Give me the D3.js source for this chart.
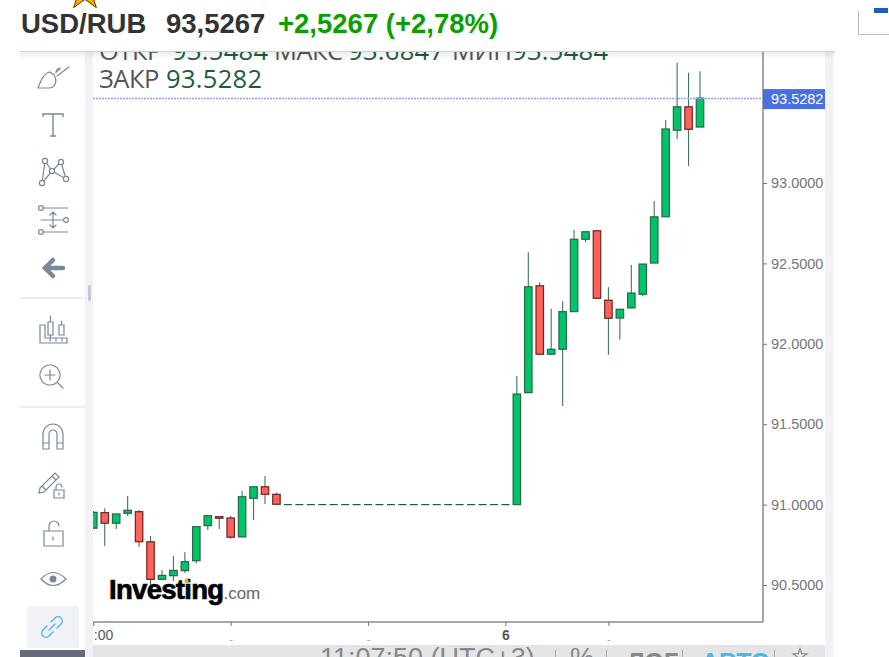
<!DOCTYPE html>
<html>
<head>
<meta charset="utf-8">
<script src="https://cdn.jsdelivr.net/npm/d3@7/dist/d3.min.js"></script>
<style>
  html, body { margin: 0; padding: 0; background: #fff; overflow: hidden; }
  svg { display: block; }
  text { font-family: "Liberation Sans", Arial, sans-serif; }
</style>
</head>
<body>
<div id="d3"></div>
<script>
// candles, oldest first. Index 17-36 is the flat stretch at 91
const opens = [90.853, 90.95, 90.884, 90.946, 90.956, 90.769, 90.535, 90.558, 90.589, 90.651, 90.869, 90.925, 90.917, 90.799, 91.039, 91.111, 91.064,
  91, 91, 91, 91, 91, 91, 91, 91, 91, 91, 91, 91, 91, 91, 91, 91, 91, 91, 91, 91,
  91, 91.696, 92.361, 91.935, 91.966, 92.2, 92.65, 92.703, 92.271, 92.16, 92.223, 92.308, 92.502, 92.79, 93.328, 93.474, 93.348];
const closes = [90.952, 90.884, 90.942, 90.965, 90.769, 90.535, 90.56, 90.591, 90.645, 90.863, 90.931, 90.915, 90.797, 91.049, 91.111, 91.064, 91.002,
  91, 91, 91, 91, 91, 91, 91, 91, 91, 91, 91, 91, 91, 91, 91, 91, 91, 91, 91, 91,
  91.688, 92.355, 91.935, 91.966, 92.2, 92.65, 92.697, 92.283, 92.159, 92.215, 92.316, 92.496, 92.79, 93.336, 93.474, 93.334, 93.5282];
const highs = [90.96, 90.977, 90.942, 91.053, 90.966, 90.805, 90.593, 90.68, 90.703, 90.863, 90.931, 90.925, 90.929, 91.085, 91.111, 91.178, 91.074,
  91, 91, 91, 91, 91, 91, 91, 91, 91, 91, 91, 91, 91, 91, 91, 91, 91, 91, 91, 91,
  91.8, 92.569, 92.382, 92.218, 92.264, 92.708, 92.697, 92.703, 92.351, 92.215, 92.49, 92.496, 92.888, 93.392, 93.748, 93.686, 93.695];
const lows = [90.85, 90.743, 90.848, 90.929, 90.736, 90.5, 90.535, 90.525, 90.576, 90.635, 90.842, 90.848, 90.788, 90.799, 90.904, 91.004, 91.002,
  91, 91, 91, 91, 91, 91, 91, 91, 91, 91, 91, 91, 91, 91, 91, 91, 91, 91, 91, 91,
  91, 91.696, 91.935, 91.935, 91.613, 92.2, 92.631, 92.283, 91.932, 92.026, 92.223, 92.295, 92.502, 92.79, 93.272, 93.106, 93.348];

const priceTicks = [90.5, 91, 91.5, 92, 92.5, 93];
const lastPrice = 93.5282;
// where the time axis ticks sit (candle index) and what they say
const timeTicks = [0, 12, 24, 36, 45];
const timeLabels = [":00", "-", "-", "6", "-"];

const bull = "#00c46a", bear = "#ff6258";
const bullEdge = "#1f5c3e", bearEdge = "#5a1a16";
const iconColor = "#7a8899";

const data = opens.map((o, i) => ({ i, o, c: closes[i], h: highs[i], l: lows[i] }));

const svg = d3.select("#d3").append("svg").attr("width", 889).attr("height", 657);

// panel backgrounds
svg.append("rect").attr("x", 85).attr("y", 50).attr("width", 8).attr("height", 607).attr("fill", "#f0f2f6");
svg.append("rect").attr("x", 825).attr("y", 50).attr("width", 8).attr("height", 607).attr("fill", "#f0f2f6");
svg.append("rect").attr("x", 88).attr("y", 285).attr("width", 3).attr("height", 16).attr("rx", 1.5).attr("fill", "#c4c8cc");

// chart area, clipped so the first candle is cut by the left edge
svg.append("clipPath").attr("id", "plot").append("rect")
  .attr("x", 93).attr("y", 50).attr("width", 670).attr("height", 572);

const x = d3.scaleLinear().domain([0, 53]).range([93.3, 700]);
const y = d3.scaleLinear().domain([90.5, 93]).range([585, 183]);

const plot = svg.append("g").attr("clip-path", "url(#plot)");

// last price line
svg.append("line")
  .attr("x1", 93).attr("x2", 763)
  .attr("y1", Math.round(y(lastPrice)) + 0.5).attr("y2", Math.round(y(lastPrice)) + 0.5)
  .attr("stroke", "#8fa6f8").attr("stroke-width", 1.5).attr("stroke-dasharray", "2,1");

const candle = plot.selectAll("g.candle").data(data).join("g").attr("class", "candle");

// wicks
candle.filter((d) => d.h > d.l).append("line")
  .attr("x1", (d) => x(d.i)).attr("x2", (d) => x(d.i))
  .attr("y1", (d) => y(d.h)).attr("y2", (d) => y(d.l))
  .attr("stroke", bullEdge).attr("stroke-opacity", 0.85).attr("stroke-width", 1.1);

// bodies
candle.filter((d) => d.o !== d.c).append("rect")
  .attr("x", (d) => x(d.i) - 3.75)
  .attr("width", 7.5)
  .attr("y", (d) => y(Math.max(d.o, d.c)))
  .attr("height", (d) => Math.abs(y(d.o) - y(d.c)))
  .attr("fill", (d) => (d.c >= d.o ? bull : bear))
  .attr("stroke", (d) => (d.c >= d.o ? bullEdge : bearEdge))
  .attr("stroke-opacity", 0.9)
  .attr("stroke-width", 1.2);

// no movement: the candle is only a dash
candle.filter((d) => d.o === d.c).append("line")
  .attr("x1", (d) => x(d.i) - 4).attr("x2", (d) => x(d.i) + 4)
  .attr("y1", (d) => y(d.c)).attr("y2", (d) => y(d.c))
  .attr("stroke", bullEdge).attr("stroke-width", 1.2);

// price axis
const yAxis = svg.append("g")
  .attr("transform", "translate(763,0)")
  .call(d3.axisRight(y).tickValues(priceTicks).tickFormat(d3.format(".4f")).tickSize(4).tickPadding(4));
yAxis.select(".domain").attr("d", "M0,51V622").attr("stroke", "#8a8a8a").attr("stroke-width", 1.5);
yAxis.selectAll(".tick line").attr("stroke", "#777");
yAxis.selectAll("text").attr("fill", "#777").attr("font-size", 14.5).style("font-family", '"Liberation Sans", Arial, sans-serif');

// last price tag
svg.append("rect").attr("x", 763).attr("y", y(lastPrice) - 9).attr("width", 62).attr("height", 20).attr("fill", "#4a6fe3");
svg.append("text").attr("x", 771).attr("y", y(lastPrice) + 5.5).attr("fill", "#fff").attr("font-size", 14.5).text(lastPrice.toFixed(4));

// time axis
const xAxis = svg.append("g")
  .attr("transform", "translate(0,622)")
  .call(d3.axisBottom(x).tickValues(timeTicks).tickFormat((d, i) => timeLabels[i]).tickSize(4).tickPadding(4));
xAxis.select(".domain").attr("d", "M93,0H763").attr("stroke", "#8a8a8a").attr("stroke-width", 1.5);
xAxis.selectAll(".tick line").attr("stroke", "#777");
xAxis.selectAll("text")
  .attr("y", 18).attr("dy", 0)
  .attr("fill", (d, i) => (timeLabels[i] === "-" ? "#aaa" : "#555"))
  .attr("font-size", (d, i) => (timeLabels[i] === "-" ? 11 : 14))
  .attr("font-weight", (d, i) => (timeLabels[i] === "6" ? 700 : 400))
  .attr("text-anchor", (d, i) => (i === 0 ? "start" : "middle"))
  .style("font-family", '"Liberation Sans", Arial, sans-serif');
xAxis.selectAll(".tick").filter((d, i) => timeLabels[i] === "-").select("text").attr("y", 21);

// ohlc legend, top row is cut by the header
const legendFont = '"Open Sans", sans-serif';
const legendLabels = ["ОТКР", "МАКС", "МИН", "ЗАКР"];
const legendValues = ["93.5484", "93.6847", "93.5484", "93.5282"];
const legendX = [99, 274, 452, 99];
const legendValueX = [172, 348, 512, 166];
const legendY = [60, 60, 60, 87.5];
const legend = svg.append("g").attr("font-size", 25.5).style("font-family", legendFont);
legend.selectAll("text.lab").data(legendLabels).join("text").attr("class", "lab")
  .attr("x", (d, i) => legendX[i]).attr("y", (d, i) => legendY[i])
  .attr("fill", "#555").attr("letter-spacing", "-0.5").style("font-family", legendFont).text((d) => d);
legend.selectAll("text.val").data(legendValues).join("text").attr("class", "val")
  .attr("x", (d, i) => legendValueX[i]).attr("y", (d, i) => legendY[i])
  .attr("fill", "#1f5c3e").attr("letter-spacing", "0.3").style("font-family", legendFont).text((d) => d);

// watermark
const logo = svg.append("text").attr("x", 109).attr("y", 599);
logo.append("tspan").attr("font-size", 27.5).attr("font-weight", 700).attr("fill", "#000")
  .attr("stroke", "#000").attr("stroke-width", 0.7).attr("letter-spacing", "-0.7").text("Investing");
logo.append("tspan").attr("font-size", 17).attr("fill", "#666").text(".com");
svg.append("circle").attr("cx", 186.5).attr("cy", 581).attr("r", 2.2).attr("fill", "#f9a825");

// header
svg.append("rect").attr("width", 835).attr("height", 51).attr("fill", "#fff");
const shade = svg.append("linearGradient").attr("id", "shade").attr("x1", 0).attr("x2", 0).attr("y1", 0).attr("y2", 1);
shade.append("stop").attr("offset", 0).attr("stop-color", "#000").attr("stop-opacity", 0.07);
shade.append("stop").attr("offset", 1).attr("stop-color", "#000").attr("stop-opacity", 0);
svg.append("rect").attr("x", 20).attr("y", 52).attr("width", 815).attr("height", 8).attr("fill", "url(#shade)");
svg.append("line").attr("x1", 20).attr("x2", 835).attr("y1", 51.5).attr("y2", 51.5).attr("stroke", "#cfcfcf");
svg.append("text").attr("x", 21).attr("y", 32.5).attr("font-size", 27.5).attr("font-weight", 700).attr("fill", "#333").text("USD/RUB");
svg.append("text").attr("x", 166).attr("y", 32.5).attr("font-size", 27.5).attr("font-weight", 700).attr("fill", "#333").text("93,5267");
svg.append("text").attr("x", 278).attr("y", 32.5).attr("font-size", 27.5).attr("font-weight", 700).attr("fill", "#0a9e00").text("+2,5267 (+2,78%)");

// bit of the star icon sticking in from above
svg.append("path")
  .attr("d", d3.symbol().type(d3.symbolStar).size(420)())
  .attr("transform", "translate(85,-8)")
  .attr("fill", "#f5a800").attr("stroke", "#5a3d00").attr("stroke-width", 1);

// box corner top right
svg.append("path").attr("d", "M858.5,11V34.5H889").attr("fill", "none").attr("stroke", "#bbb");
svg.append("rect").attr("x", 874).attr("y", 8).attr("width", 14).attr("height", 5).attr("fill", "#1a5fb4");

// footer
svg.append("rect").attr("x", 93).attr("y", 645).attr("width", 732).attr("height", 12).attr("fill", "#e4e5e7");
svg.append("rect").attr("x", 20).attr("y", 650).attr("width", 65).attr("height", 7).attr("fill", "#666b78");
svg.append("text").attr("x", 320).attr("y", 667).attr("font-size", 27).attr("fill", "#888").text("11:07:50 (UTC+3)");
svg.append("text").attr("x", 570).attr("y", 667).attr("font-size", 27).attr("fill", "#888").text("%");
svg.append("text").attr("x", 627).attr("y", 671).attr("font-size", 25).attr("font-weight", 700).attr("fill", "#888").text("ЛОГ");
svg.append("text").attr("x", 701).attr("y", 671).attr("font-size", 25).attr("font-weight", 700).attr("fill", "#4db8e8").text("АВТО");
svg.append("path").attr("d", d3.symbol().type(d3.symbolStar).size(60)()).attr("transform", "translate(800,656)").attr("fill", "none").attr("stroke", "#888").attr("stroke-width", 1.2);
[606, 682, 774, 555].forEach((sx) => {
  svg.append("line").attr("x1", sx + 0.5).attr("x2", sx + 0.5).attr("y1", 650).attr("y2", 657).attr("stroke", "#aaa");
});

// toolbar
[298, 407].forEach((sy) => {
  svg.append("line").attr("x1", 20).attr("x2", 85).attr("y1", sy).attr("y2", sy).attr("stroke", "#e4eaf0").attr("stroke-width", 1.5);
});
svg.append("rect").attr("x", 27).attr("y", 606).attr("width", 52).attr("height", 42).attr("rx", 3).attr("fill", "#f0f2f6");

const icon = (cx, cy, d, color = iconColor, fill = "none") =>
  svg.append("path").attr("transform", `translate(${cx},${cy})`).attr("d", d)
    .attr("fill", fill).attr("stroke", color).attr("stroke-width", 1.2).attr("stroke-linecap", "round");

icon(53, 78, "M-15,10H-4C2,10 5,3 1,-3L-3,-6C-9,-5 -12,2 -15,10M3,-6L7,-9M4,-2L16,-11M3,-5Q3,-9 7,-10");
svg.append("path").attr("transform", "translate(53,124)").attr("d", "M-10,-7V-10H10V-7M0,-10V12M-3,12H3")
  .attr("fill", "none").attr("stroke", iconColor).attr("stroke-width", 1.4);
const nodes = [[-8, -10], [8, -9], [-1, 0], [-11, 12], [13, 8]];
icon(53, 171, "M-8,-10L-11,12M-8,-10L-1,0L8,-9L13,8L-1,0L-11,12M8,-9L-1,0");
nodes.forEach((n) => {
  svg.append("circle").attr("cx", 53 + n[0]).attr("cy", 171 + n[1]).attr("r", 2.6).attr("fill", "#fff").attr("stroke", iconColor).attr("stroke-width", 1.2);
});
icon(53, 220, "M-10,-12H15M-12,0H10M-10,12H15M0,-8V8M-3,-5L0,-8L3,-5M-3,5L0,8L3,5");
[[-12, -12], [13, 0], [-12, 12]].forEach((n) => {
  svg.append("circle").attr("cx", 53 + n[0]).attr("cy", 220 + n[1]).attr("r", 2.4).attr("fill", "#fff").attr("stroke", iconColor).attr("stroke-width", 1.2);
});
icon(53, 268, "M10,0H-8M0,-8L-8,0L0,8").attr("stroke-width", 4.5);
icon(53, 330, "M-13,-5V13H14V8H-8V-5ZM-3,8V11M3,8V11M9,8V11M-5,-8H-0V5H-5ZM6,-5H11V5H6ZM-2.5,-14V-8M-2.5,5V8M8.5,-9V-5");
icon(50, 375, "M0,-10A10,10 0 1,0 0.01,-10M-5,0H5M0,-5V5M8,8L13,13");
icon(53, 436, "M-10,13V-2A10,10 0 0,1 10,-2V13H4V-2A4,4 0 0,0 -4,-2V13ZM-10,7H-4M4,7H10");
icon(49, 482, "M-9,6L6,-9L10,-5L-5,10L-10,11ZM3,-6L7,-2M-7,4L-3,8");
icon(59, 491, "M-5,-1H5V7H-5ZM-3,-1V-4A3,3 0 0,1 3,-4M0,2V4");
icon(53, 536, "M-9,-5H10V10H-9ZM-4,-5V-10A5,5 0 0,1 6,-10M0,1V4");
icon(53, 579, "M-12,0Q0,-13 13,0Q0,13 -12,0Z");
svg.append("circle").attr("cx", 53).attr("cy", 579).attr("r", 3.5).attr("fill", iconColor);
icon(52, 627, "M-3,3L3,-3M-1,-5L3,-9A4,4 0 0,1 9,-3L5,1M1,5L-3,9A4,4 0 0,1 -9,3L-5,-1", "#4db8e8").attr("stroke-width", 1.4);
</script>
</body>
</html>
